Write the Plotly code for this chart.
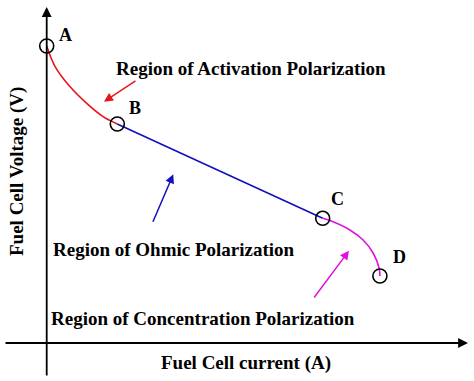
import plotly.graph_objects as go

# Data (arbitrary units: current, voltage)
act_current = [0.0, 0.21, 0.58, 1.0, 1.41, 1.765]
act_voltage = [7.425, 6.91, 6.41, 5.99, 5.66, 5.475]
ohm_current = [1.765, 6.9]
ohm_voltage = [5.475, 3.1175]
con_current = [6.9, 7.16, 7.58, 7.91, 8.16, 8.31, 8.33]
con_voltage = [3.1175, 3.03, 2.825, 2.575, 2.25, 1.875, 1.675]
pt_labels = ["A", "B", "C", "D"]
pt_current = [0.0, 1.765, 6.9, 8.33]
pt_voltage = [7.425, 5.475, 3.1175, 1.675]

FONT = "Liberation Serif, Times New Roman, serif"
FS = 19

fig = go.Figure()
fig.add_trace(go.Scatter(x=act_current, y=act_voltage, mode="lines",
                         line=dict(color="#e8141a", width=1.6, shape="spline")))
fig.add_trace(go.Scatter(x=ohm_current, y=ohm_voltage, mode="lines",
                         line=dict(color="#1010c0", width=1.6)))
fig.add_trace(go.Scatter(x=con_current, y=con_voltage, mode="lines",
                         line=dict(color="#e010e0", width=1.6, shape="spline")))
fig.add_trace(go.Scatter(x=pt_current, y=pt_voltage, mode="markers",
                         marker=dict(symbol="circle-open", size=14, color="black",
                                     line=dict(width=1.6, color="black"))))

anns = []
# axes with arrows
anns.append(dict(x=0, y=8.4, ax=0, ay=-0.85, xref="x", yref="y", axref="x", ayref="y",
                 showarrow=True, arrowhead=2, arrowsize=1.1, arrowwidth=1.8, arrowcolor="black", text=""))
anns.append(dict(x=10.5325, y=0, ax=-1.0675, ay=0, xref="x", yref="y", axref="x", ayref="y",
                 showarrow=True, arrowhead=2, arrowsize=1.1, arrowwidth=1.8, arrowcolor="black", text=""))
# region arrows
for (tx, ty, sx, sy, c) in [(1.4325, 6.0325, 2.2575, 6.575, "#e8141a"),
                            (3.165, 4.2175, 2.64, 2.9925, "#1010c0"),
                            (7.5575, 2.3075, 6.6575, 1.1, "#e010e0")]:
    anns.append(dict(x=tx, y=ty, ax=sx, ay=sy, xref="x", yref="y", axref="x", ayref="y",
                     showarrow=True, arrowhead=2, arrowsize=1.2, arrowwidth=1.5, arrowcolor=c, text=""))
# point labels
for lab, lx, ly in zip(pt_labels, [0.4575, 2.2075, 7.2575, 8.8075], [7.7, 5.875, 3.6, 2.15]):
    anns.append(dict(x=lx, y=ly, xref="x", yref="y", text="<b>%s</b>" % lab, showarrow=False,
                     font=dict(family=FONT, size=18, color="black")))
# region texts
for txt, lx, ly in [("Region of Activation Polarization", 1.68, 6.875),
                    ("Region of Ohmic Polarization", 0.105, 2.35),
                    ("Region of Concentration Polarization", 0.055, 0.625)]:
    anns.append(dict(x=lx, y=ly, xref="x", yref="y", text="<b>%s</b>" % txt, showarrow=False,
                     xanchor="left", yanchor="middle", font=dict(family=FONT, size=FS, color="black")))
anns.append(dict(x=4.97, y=-0.5, xref="x", yref="y", text="<b>Fuel Cell current (A)</b>", showarrow=False,
                 font=dict(family=FONT, size=FS, color="black")))
anns.append(dict(x=-0.7425, y=4.275, xref="x", yref="y", text="<b>Fuel Cell Voltage (V)</b>", showarrow=False,
                 textangle=-90, font=dict(family=FONT, size=FS, color="black")))

fig.update_layout(width=474, height=381, margin=dict(l=0, r=0, t=0, b=0),
                  paper_bgcolor="white", plot_bgcolor="white", showlegend=False,
                  annotations=anns,
                  xaxis=dict(visible=False, range=[-1.1675, 10.6825], fixedrange=True),
                  yaxis=dict(visible=False, range=[-0.95, 8.575], fixedrange=True))
fig.write_html("out.html", config={"displayModeBar": False},
               post_script="document.body.style.margin='0px';")
